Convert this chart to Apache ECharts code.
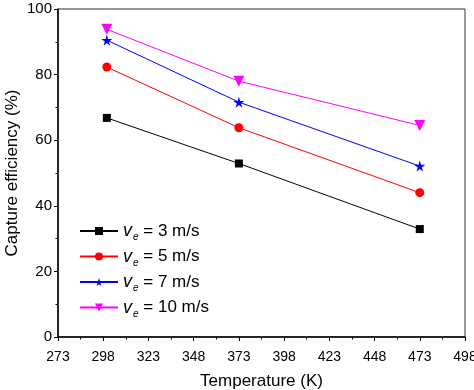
<!DOCTYPE html>
<html><head><meta charset="utf-8">
<script src="https://cdn.jsdelivr.net/npm/echarts@6/dist/echarts.min.js"></script>
<style>html,body{margin:0;padding:0;background:#fff}#c{width:474px;height:390px}</style>
</head><body><div id="c"></div>
<script>
const temperatures = [300, 373, 473];
const speeds = ['3', '5', '7', '10'];
const eff3 = [66.8, 52.9, 32.9];
const eff5 = [82.3, 63.8, 44.0];
const eff7 = [90.5, 71.6, 52.1];
const eff10 = [93.8, 78.0, 64.5];
const xTicks = [273, 298, 323, 348, 373, 398, 423, 448, 473, 498];

const STAR = 'path://M50,0 L61,35 L98,35 L68,57 L79,91 L50,70 L21,91 L32,57 L2,35 L39,35 Z';
const TRI_DOWN = 'path://M0,0 L100,0 L50,90 Z';
const styles = [
  {color:'#000000', symbol:'rect', size:8},
  {color:'#ff0000', symbol:'circle', size:9},
  {color:'#0000ff', symbol:STAR, size:11},
  {color:'#ff00ff', symbol:TRI_DOWN, size:11}
];
const values = [eff3, eff5, eff7, eff10];
const font = 'Liberation Sans, Arial, sans-serif';

const series = values.map((v, i) => ({
  name: 'v' + speeds[i],
  type: 'line',
  data: temperatures.map((t, j) => [t, v[j]]),
  symbol: styles[i].symbol,
  symbolSize: styles[i].size,
  lineStyle: {color: styles[i].color, width: 1},
  itemStyle: {color: styles[i].color},
  emphasis: {disabled: true},
  animation: false
}));

const chart = echarts.init(document.getElementById('c'), null, {renderer:'canvas'});
chart.setOption({
  animation: false,
  backgroundColor: '#fff',
  grid: {left: 58, right: 9, top: 9, bottom: 53, show: true, borderColor: '#333', borderWidth: 1,
         containLabel: false, outerBoundsMode: 'none'},
  legend: {
    orient: 'vertical', left: 79, top: 222, itemWidth: 38, itemHeight: 10, itemGap: 5,
    padding: 0,
    selectedMode: false,
    formatter: (name) => '{v|v}{e|e}{t| = ' + name.slice(1) + ' m/s}',
    textStyle: {
      fontFamily: font, color: '#000',
      rich: {
        v: {fontSize: 18, fontStyle: 'italic', fontFamily: font, color:'#000'},
        e: {fontSize: 10, fontStyle: 'italic', fontFamily: font, color:'#000', padding: [13,0,0,1]},
        t: {fontSize: 17, fontFamily: font, color:'#000'}
      }
    }
  },
  xAxis: {
    type: 'value', min: xTicks[0], max: xTicks[xTicks.length-1], interval: 25,
    name: 'Temperature (K)', nameLocation: 'middle', nameGap: 36, nameMoveOverlap: false,
    nameTextStyle: {fontSize: 17, fontFamily: font, color: '#000'},
    axisLine: {show: true, lineStyle: {color: '#000', width: 1.5}},
    axisTick: {show: true, inside: false, length: 4, lineStyle: {color:'#000', width: 1}},
    minorTick: {show: true, splitNumber: 2, length: 2.5, lineStyle: {color:'#000', width: 1}},
    axisLabel: {fontSize: 14, fontFamily: font, color: '#000', margin: 13, hideOverlap: false},
    splitLine: {show: false}
  },
  yAxis: {
    type: 'value', min: 0, max: 100, interval: 20,
    name: 'Capture efficiency (%)', nameLocation: 'middle', nameGap: 37, nameMoveOverlap: false,
    nameTextStyle: {fontSize: 17, fontFamily: font, color: '#000'},
    axisLine: {show: true, lineStyle: {color: '#000', width: 1.5}},
    axisTick: {show: true, inside: false, length: 4, lineStyle: {color:'#000', width: 1}},
    minorTick: {show: true, splitNumber: 2, length: 2.5, lineStyle: {color:'#000', width: 1}},
    axisLabel: {fontSize: 15, fontFamily: font, color: '#000', margin: 6},
    splitLine: {show: false}
  },
  series: series
});
</script></body></html>
